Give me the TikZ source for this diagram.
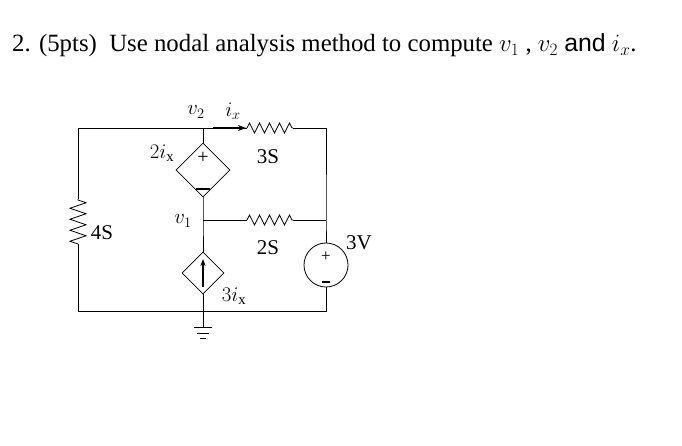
\documentclass[tikz,border=0pt]{standalone}
\usepackage{fontspec}
\setmainfont{Liberation Serif}
\newfontfamily\arialfont{Liberation Sans}
\usepackage{amsmath}
\usetikzlibrary{shapes.geometric,arrows.meta,decorations.pathmorphing}
\tikzset{
    wire/.style={line width=0.8pt},
    res/.style={wire, decorate, decoration={zigzag, segment length=10pt, amplitude=5pt}},
    lbl/.style={font=\fontsize{21}{21}\selectfont, inner sep=1pt},
}
\begin{document}
\begin{tikzpicture}[x=1pt,y=-1pt]
    \useasboundingbox (0,0) rectangle (682,445);
    \node[anchor=west, font=\fontsize{24.8}{25}\selectfont, inner sep=0pt] (title) at (12,45)
        {2. (5pts)\ \ Use nodal analysis method to compute $v_1$ , $v_2$ {\arialfont and} $i_x$.};

    % corners and junctions
    \coordinate (tl) at (78,128);
    \coordinate (tm) at (203,128);
    \coordinate (tr) at (326,128);
    \coordinate (bl) at (78,311);
    \coordinate (bm) at (203,311);
    \coordinate (br) at (326,311);
    \coordinate (n1) at (203,220);
    \coordinate (r1) at (326,220);

    % dependent sources
    \node[diamond, draw, wire, minimum width=54pt, minimum height=54pt, inner sep=0pt] (vs) at (203,170) {};
    \node[diamond, draw, wire, minimum width=42pt, minimum height=42pt, inner sep=0pt] (cs) at (203,273) {};
    \node[font=\fontsize{20}{20}\selectfont] at (203,158) {+};
    \draw[line width=1.5pt] (196,189) -- (210,189);
    \draw[line width=1.2pt, -{Stealth[length=7pt]}] (203,287) -- (203,259);

    % voltage source
    \node[circle, draw, wire, minimum size=44pt, inner sep=0pt] (vb) at (326,265) {};
    \node[font=\fontsize{17}{17}\selectfont] at (326,257) {+};
    \draw[line width=1.2pt] (322,282) -- (330,282);

    % wires
    \draw[wire] (bl) -- (78,244);
    \draw[res, decoration={amplitude=8pt, segment length=11pt}] (78,244) -- (78,199);
    \draw[wire] (78,199) -- (tl) -- (tm) -- (vs.north);
    \draw[wire] (tm) -- (247,128);
    \draw[res] (247,128) -- (293,128);
    \draw[wire] (293,128) -- (tr) -- (r1) -- (vb.north);
    \draw[wire] (vs.south) -- (n1) -- (cs.north);
    \draw[wire] (n1) -- (247,220);
    \draw[res] (247,220) -- (293,220);
    \draw[wire] (293,220) -- (r1);
    \draw[wire] (cs.south) -- (bm);
    \draw[wire] (vb.south) -- (br) -- (bl);

    % ground
    \draw[wire] (bm) -- (203,327);
    \draw[wire] (194,327) -- (212,327);
    \draw[wire] (197,333) -- (209,333);
    \draw[wire] (200,338) -- (206,338);

    % current arrow
    \draw[line width=2pt, -{Stealth[length=8pt]}] (213,128) -- (246,128);

    % labels
    \node[lbl] at (196,112) {$v_2$};
    \node[lbl] at (233,111) {$i_x$};
    \node[lbl] at (162,153) {$2i_{\text{x}}$};
    \node[lbl] at (268,157) {3S};
    \node[lbl] at (183,221) {$v_1$};
    \node[lbl] at (268,248) {2S};
    \node[lbl] at (102,233) {4S};
    \node[lbl] at (359,243) {3V};
    \node[lbl] at (234,296) {$3i_{\text{x}}$};
\end{tikzpicture}
\end{document}
